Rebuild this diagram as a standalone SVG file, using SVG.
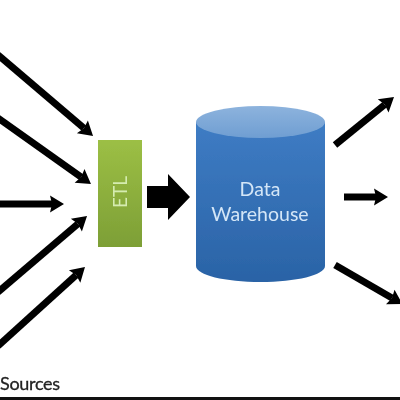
<svg xmlns="http://www.w3.org/2000/svg" width="400" height="400" viewBox="0 0 400 400">
<style>
.conn{stroke:#000;stroke-width:7;fill:none;marker-end:url(#ah)}
text{font-family:Lato,"Open Sans",sans-serif}
</style>
<defs>
<marker id="ah" markerUnits="userSpaceOnUse" markerWidth="18" markerHeight="20" refX="3" refY="10" orient="auto"><path d="M1 1.500L15 10L1 18.500L3 10Z" fill="#000"/></marker>
<linearGradient id="g" x1="0" y1="0" x2="0" y2="1"><stop offset="0" stop-color="#9cbf45"/><stop offset="1" stop-color="#7d9f36"/></linearGradient>
<linearGradient id="b" x1="0" y1="0" x2="0" y2="1"><stop offset="0" stop-color="#3e7cc4"/><stop offset="1" stop-color="#2a63a6"/></linearGradient>
<linearGradient id="t" x1="0" y1="0" x2="0" y2="1"><stop offset="0" stop-color="#8db3dd"/><stop offset="1" stop-color="#6f9ed2"/></linearGradient>
<filter id="s" x="-5%" y="-5%" width="110%" height="110%"><feGaussianBlur stdDeviation="0.6"/></filter>
</defs>
<rect width="400" height="400" fill="#fff"/>
<g id="connectors" filter="url(#s)">
<path class="conn" d="M-2 55L83.900 128.200"/>
<path class="conn" d="M-2 118L81.200 177.100"/>
<path class="conn" d="M-2 204L52 204"/>
<path class="conn" d="M-2 292L77.900 223.800"/>
<path class="conn" d="M-2 346L76.100 275.100"/>
<path class="conn" d="M335 145L384.700 104.600"/>
<path class="conn" d="M344 197L376 197"/>
<path class="conn" d="M335 265L392 298"/>
<path d="M147 186H168V174L190 197L168 220V208H147Z" fill="#000"/>
</g>
<g id="etl" filter="url(#s)">
<rect x="98" y="140" width="44" height="107" fill="url(#g)"/>
<text transform="translate(127 208) rotate(-90)" font-size="19" fill="#d5ecb0">ETL</text>
</g>
<g id="warehouse" filter="url(#s)">
<path d="M196 122V266C196 275 225 282 260.500 282S325 275 325 266V122Z" fill="url(#b)"/>
<ellipse cx="260.500" cy="122" rx="64.500" ry="16" fill="url(#t)"/>
<text x="260" y="196" font-size="19.500" fill="#d4e6f7" text-anchor="middle">Data</text>
<text x="260" y="221" font-size="19.500" fill="#d4e6f7" text-anchor="middle">Warehouse</text>
</g>
<g id="sources" filter="url(#s)">
<text x="0" y="390" font-size="18" fill="#222" stroke="#222" stroke-width="0.3" textLength="60">Sources</text>
</g>
<rect id="bar" x="0" y="397" width="400" height="3" fill="#111"/>
</svg>
